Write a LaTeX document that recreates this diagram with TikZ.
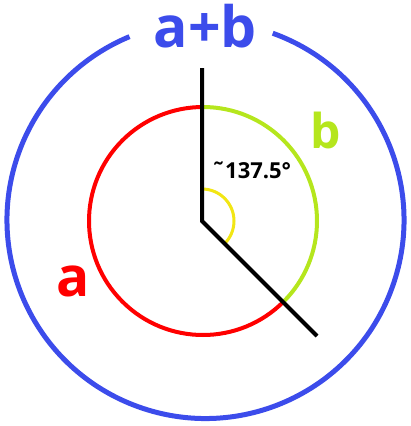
\documentclass[tikz,border=0pt]{standalone}
\usepackage{fontspec}
\setmainfont{Open Sans}
\definecolor{sumblue}{RGB}{60,76,235}
\definecolor{arcred}{RGB}{255,0,0}
\definecolor{arclime}{RGB}{181,230,29}
\definecolor{anglegold}{RGB}{242,230,20}
\tikzstyle{ring} = [line width=5pt, draw=sumblue]
\tikzstyle{arcA} = [line width=4pt, draw=arcred]
\tikzstyle{arcB} = [line width=4pt, draw=arclime]
\tikzstyle{anglemark} = [line width=3pt, draw=anglegold]
\tikzstyle{ray} = [line width=4pt, draw=black]
\tikzstyle{biglabel} = [anchor=base, inner sep=0pt, font=\bfseries\fontsize{57}{57}\selectfont]
\def\rin{114}
\def\rout{198.5}

\begin{document}
\begin{tikzpicture}[x=1pt, y=-1pt]
\useasboundingbox (0,0) rectangle (410,426);
\coordinate (C) at (205.5,220);
\coordinate (O) at (203,221);
\coordinate (V) at (202,221);
\coordinate (top) at (202,68);
\coordinate (tip) at (317,336);

% outer circle, open at the top for its label
\draw [ring] (C) ++(-70.2:\rout) arc[start angle=-70.2, end angle=247.5, radius=\rout];

% inner circle: b then a
\draw [arcB] (O) ++(-90:\rin) arc[start angle=-90, end angle=45, radius=\rin];
\draw [arcA] (O) ++(45:\rin) arc[start angle=45, end angle=270, radius=\rin];

\draw [anglemark] (V) ++(-90:32) arc[start angle=-90, end angle=45, radius=32];
\draw [ray] (top) -- (V) -- (tip);

\node (sum) [biglabel, text=sumblue] at (205.5,47) {a+b};
\node (la) [biglabel, text=arcred, font=\bfseries\fontsize{55}{55}\selectfont] at (73.5,296) {a};
\node (lb) [biglabel, text=arclime, font=\bfseries\fontsize{48}{48}\selectfont] at (326,148) {b};
\node (angle) [biglabel, font=\bfseries\fontsize{22}{22}\selectfont] at (251.5,178) {˜137.5°};
\end{tikzpicture}
\end{document}
